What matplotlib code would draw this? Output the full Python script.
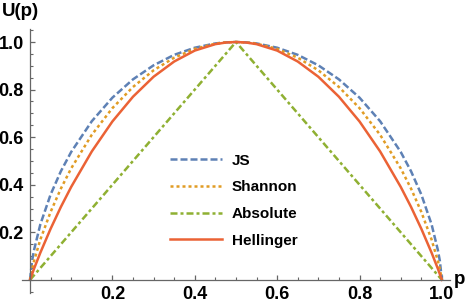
import numpy as np
import matplotlib.pyplot as plt
from matplotlib.ticker import MultipleLocator, FixedLocator

plt.rcParams['font.family'] = ['Liberation Sans', 'DejaVu Sans']
plt.rcParams['font.weight'] = 'bold'

# values
p = [0.0, 0.005, 0.01, 0.025, 0.05, 0.075, 0.1, 0.15, 0.2, 0.25, 0.3, 0.35, 0.4, 0.45, 0.475, 0.5,
     0.525, 0.55, 0.6, 0.65, 0.7, 0.75, 0.8, 0.85, 0.9, 0.925, 0.95, 0.975, 0.99, 0.995, 1.0]
js = [0.0, 0.080, 0.127, 0.233, 0.359, 0.457, 0.538, 0.667, 0.766, 0.843, 0.902, 0.946, 0.976, 0.994, 0.9985, 1.0,
      0.9985, 0.994, 0.976, 0.946, 0.902, 0.843, 0.766, 0.667, 0.538, 0.457, 0.359, 0.233, 0.127, 0.080, 0.0]
shannon = [0.0, 0.045, 0.081, 0.169, 0.286, 0.384, 0.469, 0.610, 0.722, 0.811, 0.881, 0.934, 0.971, 0.993, 0.998, 1.0,
           0.998, 0.993, 0.971, 0.934, 0.881, 0.811, 0.722, 0.610, 0.469, 0.384, 0.286, 0.169, 0.081, 0.045, 0.0]
hellinger = [0.0, 0.024, 0.048, 0.114, 0.215, 0.307, 0.391, 0.540, 0.666, 0.770, 0.854, 0.918, 0.964, 0.991, 0.9977, 1.0,
             0.9977, 0.991, 0.964, 0.918, 0.854, 0.770, 0.666, 0.540, 0.391, 0.307, 0.215, 0.114, 0.048, 0.024, 0.0]
p_abs = [0.0, 0.5, 1.0]
absolute = [0.0, 1.0, 0.0]

xticks = [0.2, 0.4, 0.6, 0.8, 1.0]
yticks = [0.2, 0.4, 0.6, 0.8, 1.0]

blue, orange, green, red = '#5E81B5', '#E19C24', '#8FB032', '#EB6235'
axcol = '#666666'
lw = 1.8

fig = plt.figure(figsize=(4.74, 3.06), dpi=100)
ax = fig.add_axes([0.0468, 0.0425, 0.902, 0.863])

ax.plot(p, js, color=blue, lw=lw, dashes=(2.8, 1.2), label='JS')
ax.plot(p, shannon, color=orange, lw=lw, dashes=(1.2, 1.2), label='Shannon')
ax.plot(p_abs, absolute, color=green, lw=lw, dashes=(2.8, 1.2, 1.2, 1.2), label='Absolute')
ax.plot(p, hellinger, color=red, lw=lw, label='Hellinger')

ax.set_xlim(-0.019, 1.019)
ax.set_ylim(-0.055, 1.055)

for s in ['top', 'right']:
    ax.spines[s].set_visible(False)
ax.spines['left'].set_position(('data', 0))
ax.spines['bottom'].set_position(('data', 0))
for s in ['left', 'bottom']:
    ax.spines[s].set_color(axcol)
    ax.spines[s].set_linewidth(0.9)

ax.xaxis.set_major_locator(FixedLocator(xticks))
ax.yaxis.set_major_locator(FixedLocator(yticks))
ax.xaxis.set_minor_locator(MultipleLocator(0.05))
ax.yaxis.set_minor_locator(MultipleLocator(0.05))
ax.set_xticklabels(['%.1f' % t for t in xticks])
ax.set_yticklabels(['%.1f' % t for t in yticks])
ax.tick_params(which='major', direction='in', length=3.5, width=0.9, color=axcol,
               labelsize=13, pad=4.5)
ax.tick_params(which='minor', direction='in', length=2, width=0.8, color=axcol)
for lab in ax.get_xticklabels() + ax.get_yticklabels():
    lab.set_fontweight('bold')

fig.text(0.004, 0.962, 'U(p)', fontsize=13.5, fontweight='bold', va='center', ha='left')
fig.text(0.958, 1 - 279 / 306, 'p', fontsize=13.5, fontweight='bold', va='center', ha='left')

leg = ax.legend(loc='upper left', bbox_to_anchor=(162 / 474, 1 - 146 / 306),
                bbox_transform=fig.transFigure, frameon=False, borderpad=0,
                handlelength=3.4, handletextpad=0.65, labelspacing=0.83,
                prop={'size': 11, 'weight': 'bold'})

fig.savefig('out.png', dpi=100)
